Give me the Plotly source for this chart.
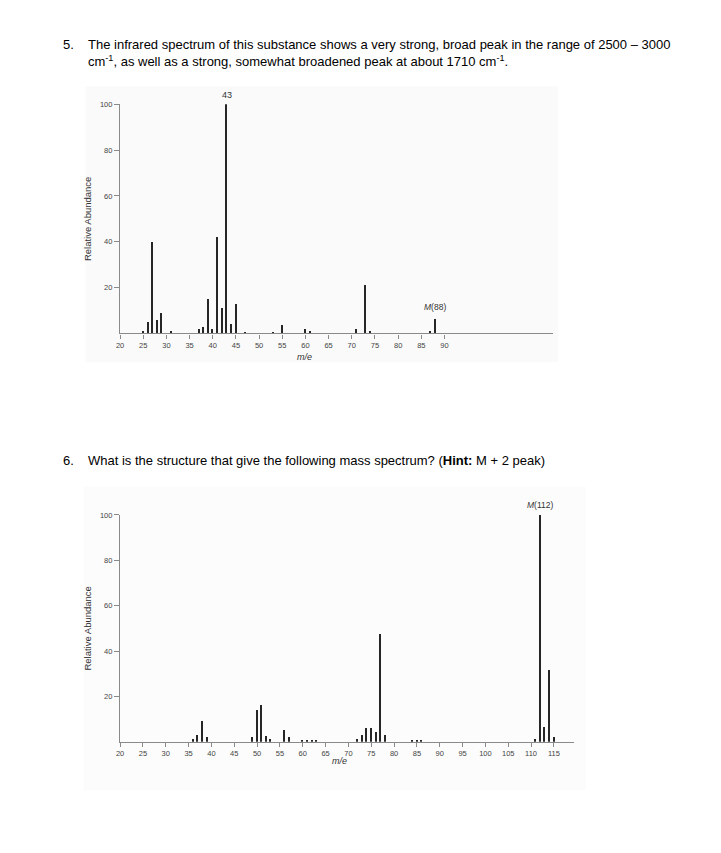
import plotly.graph_objects as go

W, H = 721, 853

# ---------------- data: spectrum 1 (question 5) ----------------
mz1 = [25, 26, 27, 28, 29, 31, 37, 38, 39, 40, 41, 42, 43, 44, 45, 47, 53, 55, 60, 61, 71, 73, 74, 87, 88]
ab1 = [1.0, 5.0, 39.6, 5.6, 8.8, 1.0, 1.7, 2.6, 14.8, 2.0, 42.0, 10.8, 100.0, 4.0, 12.7, 0.6, 0.6, 3.8, 2.0, 1.0, 2.0, 21.0, 1.0, 1.0, 6.0]

# ---------------- data: spectrum 2 (question 6) ----------------
mz2 = [36, 37, 38, 39, 49, 50, 51, 52, 53, 56, 57, 60, 61, 62, 63, 72, 73, 74, 75, 76, 77, 78, 84, 85, 86,
       111, 112, 113, 114, 115]
ab2 = [1.3, 3.0, 9.4, 2.3, 2.3, 14.2, 16.2, 2.6, 1.5, 5.2, 2.3, 1.0, 1.0, 1.0, 1.0, 1.2, 3.0, 6.0, 6.1, 4.4, 47.7, 2.9,
       0.7, 0.9, 0.9, 1.2, 100.0, 6.8, 31.7, 2.2]

xticks1 = list(range(20, 95, 5))
xticks2 = list(range(20, 120, 5))
yticks = [20, 40, 60, 80, 100]


def px(x):
    return x / W


def py(y):
    return 1 - y / H


BAR = "#262626"
AX = "#8a8a8a"
TXT = "#000000"
FONT = "Liberation Sans, Arial, sans-serif"

fig = go.Figure()
fig.add_trace(go.Bar(x=mz1, y=ab1, width=0.32, marker=dict(color=BAR, line=dict(width=0)),
                     xaxis="x", yaxis="y", showlegend=False))
fig.add_trace(go.Bar(x=mz2, y=ab2, width=0.32, marker=dict(color=BAR, line=dict(width=0)),
                     xaxis="x2", yaxis="y2", showlegend=False))

common_x = dict(showgrid=False, zeroline=False, showline=True, linecolor=AX, linewidth=1.3,
                ticks="outside", ticklen=4, tickcolor=AX, tickwidth=1,
                tickfont=dict(size=7.5, color="#444", family=FONT), fixedrange=True)
common_y = dict(showgrid=False, zeroline=False, showline=True, linecolor=AX, linewidth=1.3,
                ticks="outside", ticklen=5, tickcolor=AX, tickwidth=1,
                tickfont=dict(size=7.5, color="#444", family=FONT), fixedrange=True,
                tickvals=yticks, range=[0, 100],
                title=dict(text="Relative Abundance", font=dict(size=9.5, color="#333", family=FONT), standoff=6))

fig.update_layout(
    width=W, height=H,
    margin=dict(l=0, r=0, t=0, b=0),
    paper_bgcolor="white", plot_bgcolor="rgba(0,0,0,0)",
    bargap=0,
    font=dict(family=FONT),
    xaxis=dict(common_x, domain=[px(116.7), px(552)], range=[20, 113.4], tickvals=xticks1, anchor="y"),
    yaxis=dict(common_y, domain=[py(331), py(100.7)], anchor="x"),
    xaxis2=dict(common_x, domain=[px(116.7), px(572.7)], range=[20, 119.3], tickvals=xticks2, anchor="y2"),
    yaxis2=dict(common_y, domain=[py(741.3), py(513.3)], anchor="x2"),
)

# faint scan backgrounds
fig.add_shape(type="rect", xref="paper", yref="paper", x0=px(82), x1=px(557), y0=py(360), y1=py(83),
              fillcolor="#fafafa", line=dict(width=0), layer="below")
fig.add_shape(type="rect", xref="paper", yref="paper", x0=px(80), x1=px(585), y0=py(790), y1=py(485),
              fillcolor="#fcfcfc", line=dict(width=0), layer="below")

ann = []
# question texts
ann.append(dict(x=px(57), y=py(41), text="5.", xanchor="left"))
ann.append(dict(x=px(82), y=py(41),
                text="The infrared spectrum of this substance shows a very strong, broad peak in the range of 2500 \u2013 3000",
                xanchor="left"))
ann.append(dict(x=px(82), y=py(57),
                text="cm<sup>-1</sup>, as well as a strong, somewhat broadened peak at about 1710 cm<sup>-1</sup>.",
                xanchor="left"))
ann.append(dict(x=px(57), y=py(459), text="6.", xanchor="left"))
ann.append(dict(x=px(82), y=py(459),
                text="What is the structure that give the following mass spectrum? (<b>Hint:</b> M + 2 peak)",
                xanchor="left"))
for a in ann:
    a.update(xref="paper", yref="paper", yanchor="middle", showarrow=False,
             font=dict(size=13, color=TXT, family=FONT))
fig.update_layout(annotations=ann)

# peak labels and axis titles
fig.add_annotation(x=43, y=100, xref="x", yref="y", text="43", showarrow=False, yanchor="bottom",
                   yshift=2, font=dict(size=9, color="#333", family=FONT))
fig.add_annotation(x=88, y=6, xref="x", yref="y", text="<i>M</i>(88)", showarrow=False, yanchor="bottom",
                   yshift=6, font=dict(size=8.5, color="#333", family=FONT))
fig.add_annotation(x=112, y=100, xref="x2", yref="y2", text="<i>M</i>(112)", showarrow=False, yanchor="bottom",
                   yshift=3, font=dict(size=8.5, color="#333", family=FONT))
fig.add_annotation(x=px(302), y=py(355), xref="paper", yref="paper", text="<i>m/e</i>", showarrow=False,
                   font=dict(size=9, color="#333", family=FONT))
fig.add_annotation(x=px(337), y=py(768), xref="paper", yref="paper", text="<i>m/e</i>", showarrow=False,
                   font=dict(size=9, color="#333", family=FONT))

fig.write_html("out.html", config={"displayModeBar": False},
               post_script="document.body.style.margin='0px';")
